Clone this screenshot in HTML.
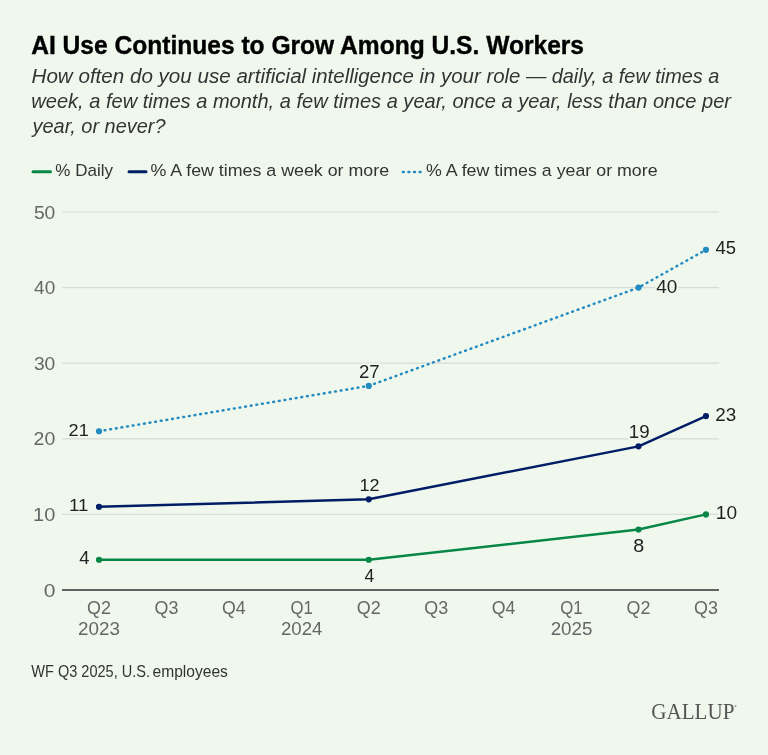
<!DOCTYPE html>
<html><head><meta charset="utf-8">
<style>
html,body{margin:0;padding:0;}
body{width:768px;height:755px;background:#f0f8ee;overflow:hidden;font-family:"Liberation Sans",sans-serif;}
svg{display:block;will-change:transform;}
</style></head><body>
<svg width="768" height="755" viewBox="0 0 768 755">
<g stroke-width="3" stroke-linecap="round">
<line x1="33" y1="171.75" x2="50.5" y2="171.75" stroke="#078646"/>
<line x1="129" y1="171.75" x2="146" y2="171.75" stroke="#011d66"/>
</g>
<line x1="402.85" y1="171.9" x2="421.5" y2="171.9" stroke="#228bc2" stroke-width="2.5" stroke-dasharray="0.9 4.7" stroke-linecap="round"/>
<g stroke="#d7dcd5" stroke-width="1.2"><line x1="62" y1="514.40" x2="719" y2="514.40"/><line x1="62" y1="438.80" x2="719" y2="438.80"/><line x1="62" y1="363.20" x2="719" y2="363.20"/><line x1="62" y1="287.60" x2="719" y2="287.60"/><line x1="62" y1="212.00" x2="719" y2="212.00"/></g>
<line x1="62" y1="590" x2="719" y2="590" stroke="#626262" stroke-width="2"/>
<g fill="none" stroke-linejoin="round">
<polyline points="99.00,431.24 368.76,385.88 638.52,287.60 705.96,249.80" stroke="#228bc2" stroke-width="2.5" stroke-dasharray="0.8 4.9" stroke-linecap="round"/>
<polyline points="99.00,506.84 368.76,499.28 638.52,446.36 705.96,416.12" stroke="#f0f8ee" stroke-width="5"/>
<polyline points="99.00,506.84 368.76,499.28 638.52,446.36 705.96,416.12" stroke="#011d66" stroke-width="2.5"/>
<polyline points="99.00,559.76 368.76,559.76 638.52,529.52 705.96,514.40" stroke="#f0f8ee" stroke-width="5"/>
<polyline points="99.00,559.76 368.76,559.76 638.52,529.52 705.96,514.40" stroke="#078646" stroke-width="2.5"/>
</g>
<circle cx="99.00" cy="431.24" r="3.1" fill="#228bc2"/><circle cx="368.76" cy="385.88" r="3.1" fill="#228bc2"/><circle cx="638.52" cy="287.60" r="3.1" fill="#228bc2"/><circle cx="705.96" cy="249.80" r="3.1" fill="#228bc2"/><circle cx="99.00" cy="506.84" r="3.1" fill="#011d66"/><circle cx="368.76" cy="499.28" r="3.1" fill="#011d66"/><circle cx="638.52" cy="446.36" r="3.1" fill="#011d66"/><circle cx="705.96" cy="416.12" r="3.1" fill="#011d66"/><circle cx="99.00" cy="559.76" r="3.1" fill="#078646"/><circle cx="368.76" cy="559.76" r="3.1" fill="#078646"/><circle cx="638.52" cy="529.52" r="3.1" fill="#078646"/><circle cx="705.96" cy="514.40" r="3.1" fill="#078646"/>
<text transform="translate(31.19,53.60) scale(0.9525,1)" font-family="Liberation Sans" font-weight="bold" font-style="normal" font-size="25.80" fill="#000" stroke="#000" stroke-width="0.4">AI Use Continues to Grow Among U.S. Workers</text>
<text transform="translate(31.53,82.50) scale(0.9875,1)" font-family="Liberation Sans" font-weight="normal" font-style="italic" font-size="20.87" fill="#333">How often do you use artificial</text>
<text transform="translate(311.74,82.50) scale(0.9788,1)" font-family="Liberation Sans" font-weight="normal" font-style="italic" font-size="20.87" fill="#333">intelligence in your role —</text>
<text transform="translate(551.75,82.50) scale(0.9540,1)" font-family="Liberation Sans" font-weight="normal" font-style="italic" font-size="20.87" fill="#333">daily, a few times a</text>
<text transform="translate(31.30,107.50) scale(0.9611,1)" font-family="Liberation Sans" font-weight="normal" font-style="italic" font-size="20.87" fill="#333">week, a few times a month, a few times a year, once a year, less than once per</text>
<text transform="translate(32.50,132.60) scale(0.9573,1)" font-family="Liberation Sans" font-weight="normal" font-style="italic" font-size="20.87" fill="#333">year, or never?</text>
<text transform="translate(55.36,175.75) scale(0.9784,1)" font-family="Liberation Sans" font-weight="normal" font-style="normal" font-size="17.39" fill="#333">% Daily</text>
<text transform="translate(150.58,175.75) scale(1.0243,1)" font-family="Liberation Sans" font-weight="normal" font-style="normal" font-size="17.39" fill="#333">% A few times a week or more</text>
<text transform="translate(426.03,175.75) scale(1.0245,1)" font-family="Liberation Sans" font-weight="normal" font-style="normal" font-size="17.39" fill="#333">% A few times a year or more</text>
<text transform="translate(33.88,218.60) scale(1.0380,1)" font-family="Liberation Sans" font-weight="normal" font-style="normal" font-size="18.57" fill="#666">50</text>
<text transform="translate(34.12,294.20) scale(1.0256,1)" font-family="Liberation Sans" font-weight="normal" font-style="normal" font-size="18.57" fill="#666">40</text>
<text transform="translate(33.88,369.80) scale(1.0380,1)" font-family="Liberation Sans" font-weight="normal" font-style="normal" font-size="18.57" fill="#666">30</text>
<text transform="translate(33.62,445.40) scale(1.0507,1)" font-family="Liberation Sans" font-weight="normal" font-style="normal" font-size="18.57" fill="#666">20</text>
<text transform="translate(33.10,521.00) scale(1.0769,1)" font-family="Liberation Sans" font-weight="normal" font-style="normal" font-size="18.57" fill="#666">10</text>
<text transform="translate(43.81,596.60) scale(1.1336,1)" font-family="Liberation Sans" font-weight="normal" font-style="normal" font-size="18.57" fill="#666">0</text>
<text transform="translate(87.00,613.90) scale(1.0127,1)" font-family="Liberation Sans" font-weight="normal" font-style="normal" font-size="17.71" fill="#666">Q2</text>
<text transform="translate(154.44,613.90) scale(1.0127,1)" font-family="Liberation Sans" font-weight="normal" font-style="normal" font-size="17.71" fill="#666">Q3</text>
<text transform="translate(221.89,613.90) scale(1.0026,1)" font-family="Liberation Sans" font-weight="normal" font-style="normal" font-size="17.71" fill="#666">Q4</text>
<text transform="translate(290.48,613.90) scale(0.9488,1)" font-family="Liberation Sans" font-weight="normal" font-style="normal" font-size="17.71" fill="#666">Q1</text>
<text transform="translate(356.76,613.90) scale(1.0127,1)" font-family="Liberation Sans" font-weight="normal" font-style="normal" font-size="17.71" fill="#666">Q2</text>
<text transform="translate(424.20,613.90) scale(1.0127,1)" font-family="Liberation Sans" font-weight="normal" font-style="normal" font-size="17.71" fill="#666">Q3</text>
<text transform="translate(491.65,613.90) scale(1.0026,1)" font-family="Liberation Sans" font-weight="normal" font-style="normal" font-size="17.71" fill="#666">Q4</text>
<text transform="translate(560.24,613.90) scale(0.9488,1)" font-family="Liberation Sans" font-weight="normal" font-style="normal" font-size="17.71" fill="#666">Q1</text>
<text transform="translate(626.52,613.90) scale(1.0127,1)" font-family="Liberation Sans" font-weight="normal" font-style="normal" font-size="17.71" fill="#666">Q2</text>
<text transform="translate(693.96,613.90) scale(1.0127,1)" font-family="Liberation Sans" font-weight="normal" font-style="normal" font-size="17.71" fill="#666">Q3</text>
<text transform="translate(78.01,635.40) scale(1.0653,1)" font-family="Liberation Sans" font-weight="normal" font-style="normal" font-size="17.71" fill="#666">2023</text>
<text transform="translate(280.94,635.40) scale(1.0529,1)" font-family="Liberation Sans" font-weight="normal" font-style="normal" font-size="17.71" fill="#666">2024</text>
<text transform="translate(550.69,635.40) scale(1.0590,1)" font-family="Liberation Sans" font-weight="normal" font-style="normal" font-size="17.71" fill="#666">2025</text>
<text transform="translate(68.60,435.80) scale(1.0543,1)" font-family="Liberation Sans" font-weight="normal" font-style="normal" font-size="17.14" fill="#222" stroke="#f0f8ee" stroke-width="4" paint-order="stroke" stroke-linejoin="round">21</text>
<text transform="translate(68.90,511.30) scale(1.0959,1)" font-family="Liberation Sans" font-weight="normal" font-style="normal" font-size="17.00" fill="#222" stroke="#f0f8ee" stroke-width="4" paint-order="stroke" stroke-linejoin="round">11</text>
<text transform="translate(79.14,564.20) scale(1.0557,1)" font-family="Liberation Sans" font-weight="normal" font-style="normal" font-size="17.43" fill="#222" stroke="#f0f8ee" stroke-width="4" paint-order="stroke" stroke-linejoin="round">4</text>
<text transform="translate(358.97,377.90) scale(1.0398,1)" font-family="Liberation Sans" font-weight="normal" font-style="normal" font-size="17.86" fill="#222" stroke="#f0f8ee" stroke-width="4" paint-order="stroke" stroke-linejoin="round">27</text>
<text transform="translate(359.55,490.80) scale(1.0603,1)" font-family="Liberation Sans" font-weight="normal" font-style="normal" font-size="17.00" fill="#222" stroke="#f0f8ee" stroke-width="4" paint-order="stroke" stroke-linejoin="round">12</text>
<text transform="translate(364.46,581.60) scale(1.0098,1)" font-family="Liberation Sans" font-weight="normal" font-style="normal" font-size="17.43" fill="#222" stroke="#f0f8ee" stroke-width="4" paint-order="stroke" stroke-linejoin="round">4</text>
<text transform="translate(628.85,438.40) scale(1.0463,1)" font-family="Liberation Sans" font-weight="normal" font-style="normal" font-size="17.86" fill="#222" stroke="#f0f8ee" stroke-width="4" paint-order="stroke" stroke-linejoin="round">19</text>
<text transform="translate(633.32,551.90) scale(1.0677,1)" font-family="Liberation Sans" font-weight="normal" font-style="normal" font-size="18.43" fill="#222" stroke="#f0f8ee" stroke-width="4" paint-order="stroke" stroke-linejoin="round">8</text>
<text transform="translate(656.13,293.40) scale(1.0613,1)" font-family="Liberation Sans" font-weight="normal" font-style="normal" font-size="17.86" fill="#222" stroke="#f0f8ee" stroke-width="4" paint-order="stroke" stroke-linejoin="round">40</text>
<text transform="translate(715.54,254.40) scale(1.0347,1)" font-family="Liberation Sans" font-weight="normal" font-style="normal" font-size="17.86" fill="#222" stroke="#f0f8ee" stroke-width="4" paint-order="stroke" stroke-linejoin="round">45</text>
<text transform="translate(715.36,420.60) scale(1.0564,1)" font-family="Liberation Sans" font-weight="normal" font-style="normal" font-size="17.86" fill="#222" stroke="#f0f8ee" stroke-width="4" paint-order="stroke" stroke-linejoin="round">23</text>
<text transform="translate(715.77,518.80) scale(1.0782,1)" font-family="Liberation Sans" font-weight="normal" font-style="normal" font-size="17.71" fill="#222" stroke="#f0f8ee" stroke-width="4" paint-order="stroke" stroke-linejoin="round">10</text>
<text transform="translate(31.32,676.90) scale(0.9206,1)" font-family="Liberation Sans" font-weight="normal" font-style="normal" font-size="15.80" fill="#333">WF Q3 2025, U.S.</text>
<text transform="translate(152.51,676.90) scale(0.9876,1)" font-family="Liberation Sans" font-weight="normal" font-style="normal" font-size="15.80" fill="#333">employees</text>
<text transform="translate(651.31,719.40) scale(0.9273,1)" font-family="Liberation Serif" font-weight="normal" font-style="normal" font-size="22.73" fill="#555">GALLUP</text>
<circle cx="735.5" cy="706" r="1" fill="#999"/>
</svg>
</body></html>
